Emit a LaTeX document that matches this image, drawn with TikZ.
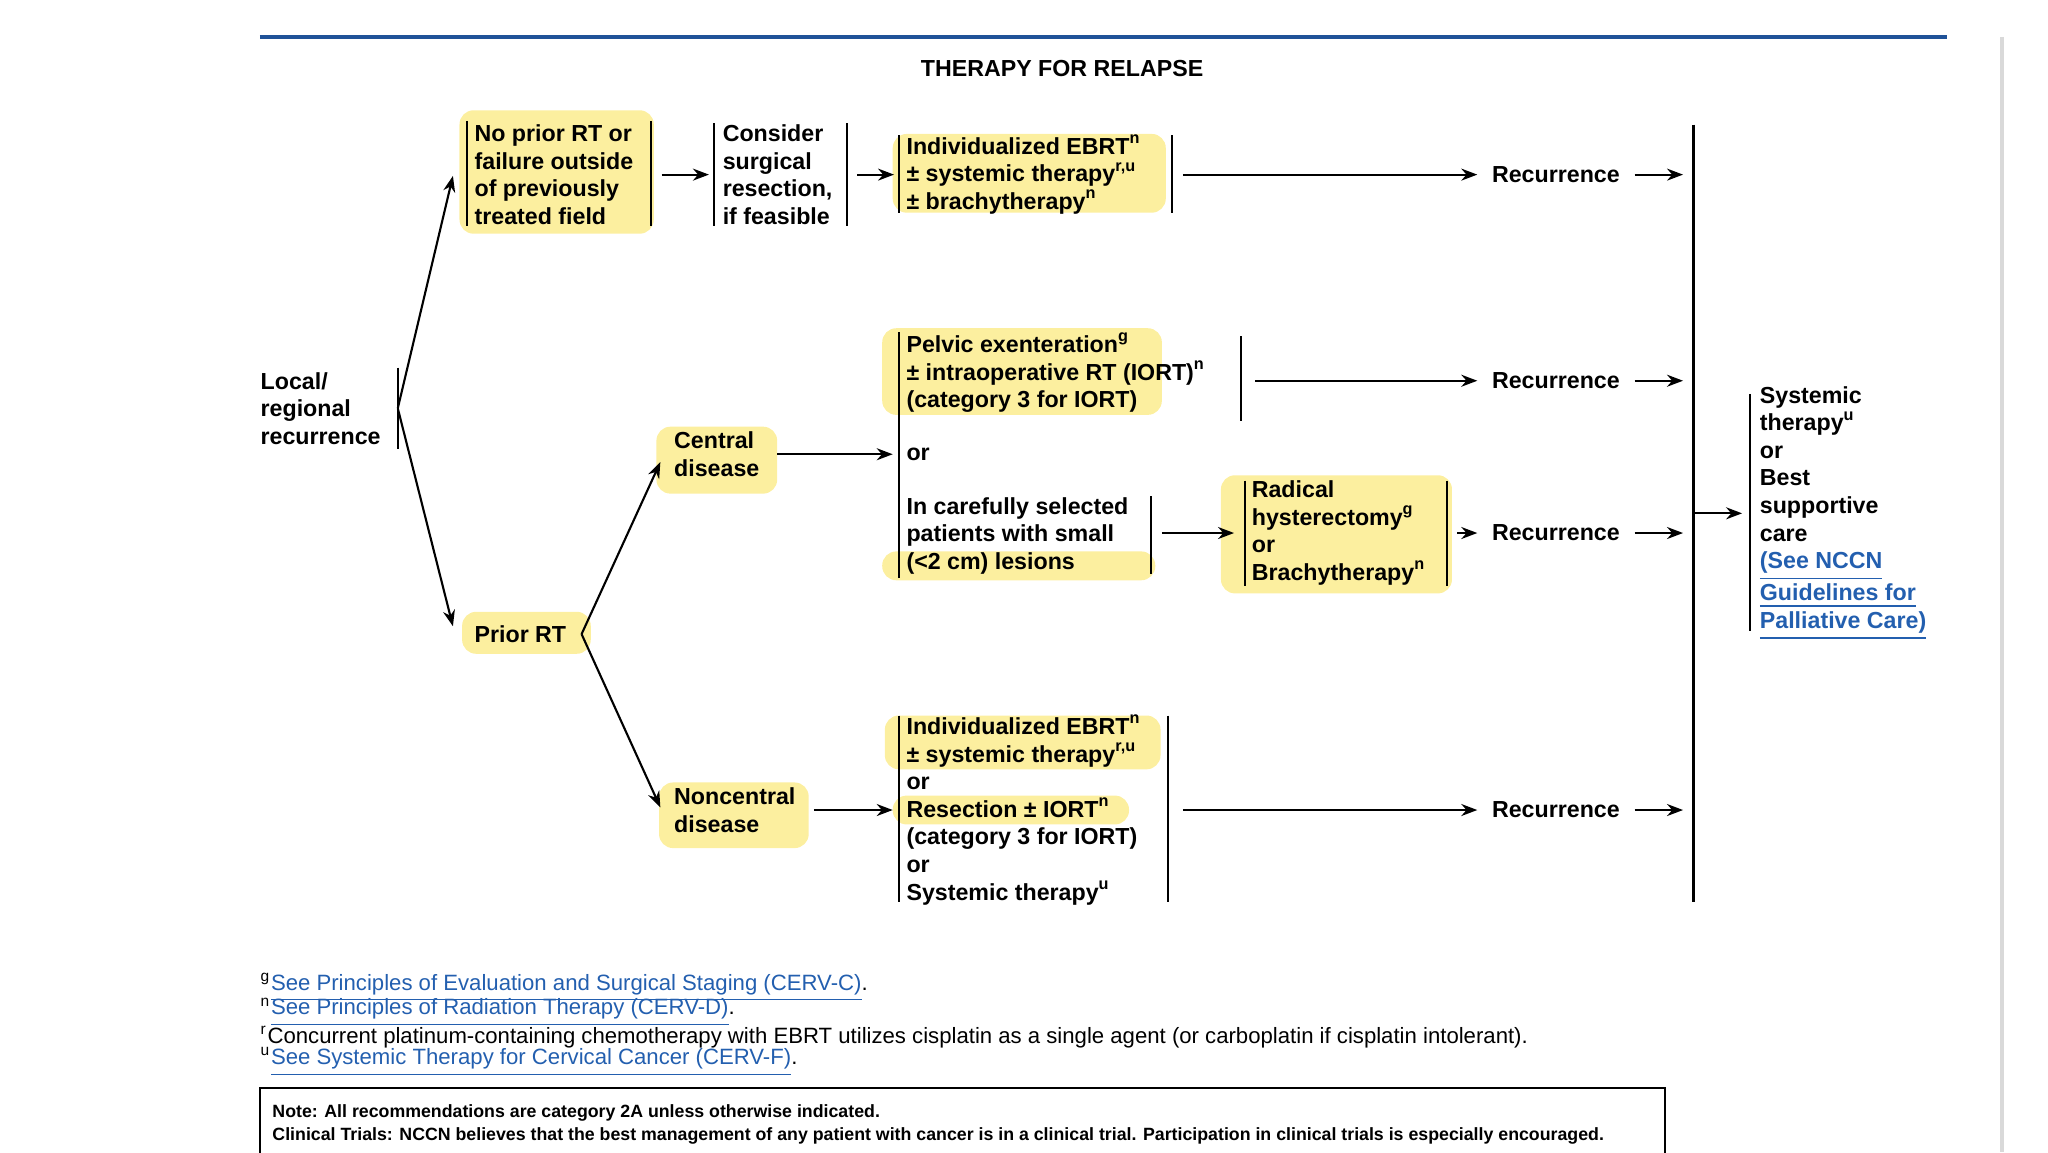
\documentclass[tikz,border=0pt]{standalone}
\usepackage{fontspec}
\setmainfont{Liberation Sans}
\usetikzlibrary{arrows.meta, positioning}
\definecolor{nccnblue}{RGB}{31,82,152}
\definecolor{linkblue}{RGB}{35,95,175}
\definecolor{hilite}{RGB}{250,228,95}
\newcommand{\lnk}[1]{\textcolor{linkblue}{\underline{#1}}}
\newcommand{\sps}[1]{\textsuperscript{#1}}

\begin{document}
\begin{tikzpicture}[
    x=0.013128cm, y=-0.013128cm,
    txt/.style={anchor=west, inner sep=0pt, align=left, font=\fontsize{6.6}{7.84}\selectfont\bfseries},
    foot/.style={anchor=west, inner sep=0pt, align=left, font=\fontsize{6.3}{7}\selectfont},
    arrow/.style={-{Stealth[length=1.6mm, width=1.2mm]}, semithick},
    brk/.style={semithick},
    hl/.style={fill=hilite, opacity=0.6, rounded corners=4pt}
]
    \useasboundingbox (0,0) rectangle (1560,877.5);
    % highlights
    \fill[hl] (350,84) rectangle (498,178);
    \fill[hl] (680,102) rectangle (888,162);
    \fill[hl] (672,250) rectangle (885,316);
    \fill[hl] (672,420) rectangle (880,442);
    \fill[hl] (930,362) rectangle (1106,452);
    \fill[hl] (500,325) rectangle (592,376);
    \fill[hl] (352,466) rectangle (450,498);
    \fill[hl] (674,545) rectangle (884,586);
    \fill[hl] (680,606) rectangle (860,628);
    \fill[hl] (502,596) rectangle (616,646);

    % header
    \draw[nccnblue, line width=1.2pt] (198,28) -- (1483,28);
    \draw[black!15, line width=1pt] (1525,28) -- (1525,877.5);
    \node[txt, anchor=center] (title) at (809,52) {THERAPY FOR RELAPSE};

    % nodes
    \node[txt] (local) at (198,311) {Local/\\regional\\recurrence};
    \node[txt] (noprior) at (361,133) {No prior RT or\\failure outside\\of previously\\treated field};
    \node[txt] (surg) at (550,133) {Consider\\surgical\\resection,\\if feasible};
    \node[txt] (ebrt) at (690,133) {Individualized EBRT\sps{n}\\± systemic therapy\sps{r,u}\\± brachytherapy\sps{n}};
    \node[txt] (prior) at (361,483) {Prior RT};
    \node[txt] (central) at (513,346) {Central\\disease};
    \node[txt] (pelvic) at (690,284) {Pelvic exenteration\sps{g}\\± intraoperative RT (IORT)\sps{n}\\(category 3 for IORT)};
    \node[txt] (or1) at (690,346) {or};
    \node[txt] (select) at (690,408) {In carefully selected\\patients with small\\(<2 cm) lesions};
    \node[txt] (radical) at (953,406) {Radical\\hysterectomy\sps{g}\\or\\Brachytherapy\sps{n}};
    \node[txt] (noncent) at (513,617) {Noncentral\\disease};
    \node[txt] (noncopt) at (690,617) {Individualized EBRT\sps{n}\\± systemic therapy\sps{r,u}\\or\\Resection ± IORT\sps{n}\\(category 3 for IORT)\\or\\Systemic therapy\sps{u}};
    \foreach \n/\y in {1/133, 2/290, 3/406, 4/617} {
        \node[txt] (rec\n) at (1136,\y) {Recurrence};
        \coordinate (out\n) at (1282,\y);
    }
    \node[txt] (syst) at (1340,391) {Systemic\\therapy\sps{u}\\or\\Best\\supportive\\care\\\lnk{(See NCCN}\\\lnk{Guidelines for}\\\lnk{Palliative Care)}};

    % brackets
    \draw[brk] (303,280) -- (303,342);
    \draw[brk] (356,92) -- (356,172);
    \draw[brk] (496,92) -- (496,172);
    \draw[brk] (544,94) -- (544,172);
    \draw[brk] (645,94) -- (645,172);
    \draw[brk] (685,103) -- (685,162);
    \draw[brk] (893,103) -- (893,162);
    \draw[brk] (685,253) -- (685,440);
    \draw[brk] (945,256) -- (945,321);
    \draw[brk] (877,378) -- (877,437);
    \draw[brk] (948,366) -- (948,446);
    \draw[brk] (1102,366) -- (1102,446);
    \draw[brk] (685,545) -- (685,687);
    \draw[brk] (890,545) -- (890,687);
    \draw[brk] (1290,95) -- (1290,687);
    \draw[brk] (1333,300) -- (1333,481);

    % connectors
    \coordinate (lr) at (303,311);
    \coordinate (pr) at (443,483);
    \draw[arrow] (lr) -- (345,134);
    \draw[arrow] (lr) -- (345,477);
    \draw[arrow] (pr) -- (503,352);
    \draw[arrow] (pr) -- (503,615);
    \draw[arrow] (504,133) -- (540,133);
    \draw[arrow] (653,133) -- (681,133);
    \draw[arrow] (901,133) -- ([xshift=-4pt]rec1.west);
    \draw[arrow] (592,346) -- (680,346);
    \draw[arrow] (956,290) -- ([xshift=-4pt]rec2.west);
    \draw[arrow] (885,406) -- (940,406);
    \draw[arrow] (1110,406) -- ([xshift=-4pt]rec3.west);
    \draw[arrow] (620,617) -- (680,617);
    \draw[arrow] (901,617) -- ([xshift=-4pt]rec4.west);
    \foreach \n in {1,...,4}
        \draw[arrow] ([xshift=4pt]rec\n.east) -- (out\n);
    \draw[arrow] (1290,391) -- (1327,391);

    % footnotes
    \node[foot] (fg) at (198,752) {\sps{g}\lnk{See Principles of Evaluation and Surgical Staging (CERV-C)}.};
    \node[foot] (fn) at (198,771) {\sps{n}\lnk{See Principles of Radiation Therapy (CERV-D)}.};
    \node[foot] (fr) at (198,790) {\sps{r}Concurrent platinum-containing chemotherapy with EBRT utilizes cisplatin as a single agent (or carboplatin if cisplatin intolerant).};
    \node[foot] (fu) at (198,809) {\sps{u}\lnk{See Systemic Therapy for Cervical Cancer (CERV-F)}.};
    \draw[semithick] (198,890) -- (198,829) -- (1268,829) -- (1268,890);
    \node[foot, font=\fontsize{5.05}{6}\selectfont\bfseries] (note) at (207,848) {Note: All recommendations are category 2A unless otherwise indicated.};
    \node[foot, font=\fontsize{5.05}{6}\selectfont\bfseries] (trials) at (207,865) {Clinical Trials: NCCN believes that the best management of any patient with cancer is in a clinical trial. Participation in clinical trials is especially encouraged.};
\end{tikzpicture}
\end{document}
